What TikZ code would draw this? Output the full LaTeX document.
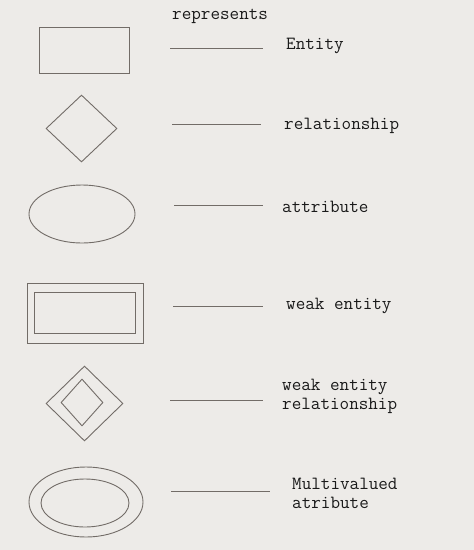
\documentclass[tikz,border=0pt]{standalone}
\usepackage{fontspec}
\usetikzlibrary{shapes.geometric, calc}
\definecolor{paper}{HTML}{EDEBE8}
\definecolor{stroke}{HTML}{726C67}
\definecolor{ink}{HTML}{1A1A1A}
\tikzset{
    my-shape/.style={
        draw=stroke, line width=0.9pt, inner sep=0pt
    },
    my-entity/.style={
        my-shape, rectangle, minimum width=#1
    },
    my-relation/.style={
        my-shape, diamond
    },
    my-attribute/.style={
        my-shape, ellipse
    },
    my-label/.style={
        anchor=base west, inner sep=0pt, text=ink,
        font=\ttfamily\fontsize{18.6}{19}\selectfont
    },
    my-dash/.style={
        draw=stroke, line width=1pt
    },
}

\begin{document}
\begin{tikzpicture}[x=1pt, y=-1pt]

        % BACKGROUND
        \fill[paper] (0,0) rectangle (474,550);
        \useasboundingbox (0,0) rectangle (474,550);

        % HEADER
        \node[my-label] (REP) at (172,19) {represents};

        % ENTITY
        \node[my-entity=90pt, minimum height=46pt] (ENT) at (84,50) {};
        \coordinate (ENTIN)  at (170,48);
        \coordinate (ENTOUT) at (263,48);
        \node[my-label] (ENTLBL) at (286,49) {Entity};
        \draw[my-dash] (ENTIN) -- (ENTOUT);

        % RELATIONSHIP
        \node[my-relation, minimum width=71pt, minimum height=67pt] (REL) at (81.5,128.5) {};
        \coordinate (RELIN)  at (172,124);
        \coordinate (RELOUT) at (261,124);
        \node[my-label] (RELLBL) at (284,129) {relationship};
        \draw[my-dash] (RELIN) -- (RELOUT);

        % ATTRIBUTE
        \node[my-attribute, minimum width=106pt, minimum height=58pt] (ATTR) at (82,214) {};
        \coordinate (ATTRIN)  at (174,205);
        \coordinate (ATTROUT) at (263,205);
        \node[my-label] (ATTRLBL) at (282,212) {attribute};
        \draw[my-dash] (ATTRIN) -- (ATTROUT);

        % WEAK ENTITY
        \node[my-entity=116pt, minimum height=60pt] (WENT)   at (85,313)     {};
        \node[my-entity=101pt, minimum height=41pt] (WENTIN) at (84.5,312.5) {};
        \coordinate (WENTA) at (173,306);
        \coordinate (WENTB) at (263,306);
        \node[my-label] (WENTLBL) at (286,309) {weak entity};
        \draw[my-dash] (WENTA) -- (WENTB);

        % WEAK ENTITY RELATIONSHIP
        \node[my-relation, minimum width=77pt, minimum height=75pt] (WREL)   at (84.5,403.5) {};
        \node[my-relation, minimum width=42pt, minimum height=47pt] (WRELIN) at (82,402.5)   {};
        \coordinate (WRELA) at (170,400);
        \coordinate (WRELB) at (263,400);
        \node[my-label] (WRELLBL1) at (282,390) {weak entity};
        \node[my-label] (WRELLBL2) at (282,409) {relationship};
        \draw[my-dash] (WRELA) -- (WRELB);

        % MULTIVALUED ATTRIBUTE
        \node[my-attribute, minimum width=114pt, minimum height=70pt] (MULTI)   at (86,502) {};
        \node[my-attribute, minimum width=88pt,  minimum height=48pt] (MULTIIN) at (85,503) {};
        \coordinate (MULTIA) at (171,491);
        \coordinate (MULTIB) at (270,491);
        \node[my-label] (MULTILBL1) at (292,489) {Multivalued};
        \node[my-label] (MULTILBL2) at (292,508) {atribute};
        \draw[my-dash] (MULTIA) -- (MULTIB);

\end{tikzpicture}
\end{document}
